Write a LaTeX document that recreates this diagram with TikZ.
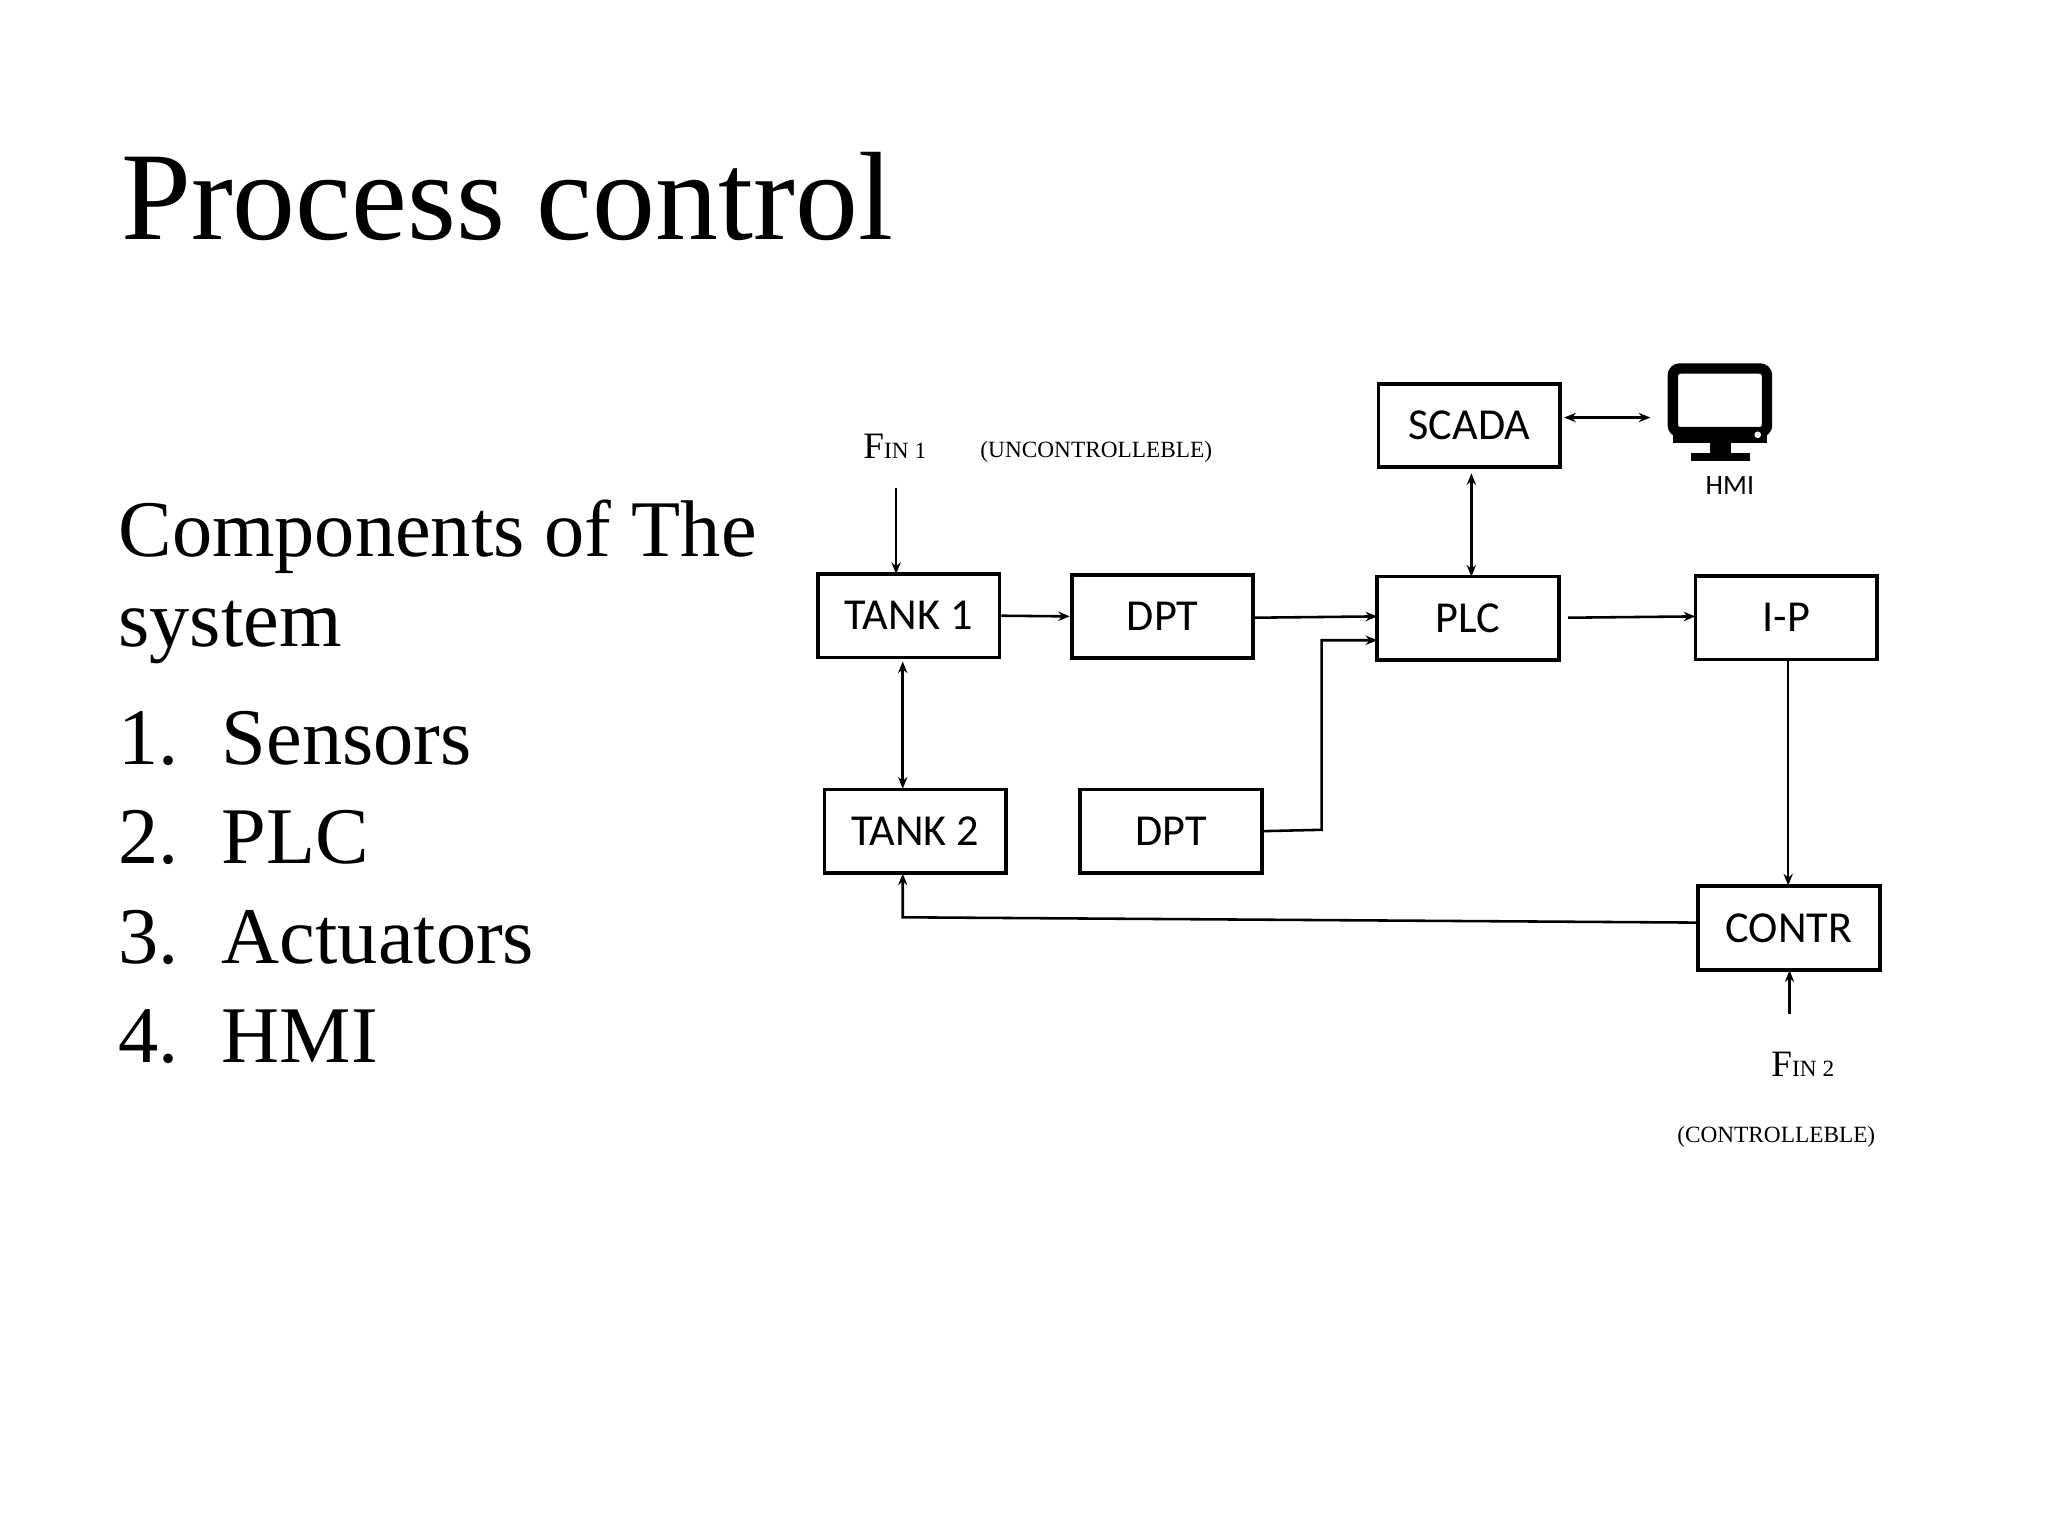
\documentclass[tikz,border=0pt]{standalone}
\usepackage{fontspec}
\setmainfont{Liberation Serif}
\newfontfamily\boxfont{Carlito}
\usetikzlibrary{arrows.meta}
\begin{document}
\begin{tikzpicture}[x=0.02cm,y=-0.02cm,
  blk/.style={draw,line width=1.6pt,minimum width=137*0.02cm,minimum height=63*0.02cm,inner sep=0pt,font=\boxfont\fontsize{19}{22}\selectfont},
  con/.style={line width=1.1pt,-{Stealth[length=5pt,width=4pt]}},
  bcon/.style={line width=1.1pt,{Stealth[length=5pt,width=4pt]}-{Stealth[length=5pt,width=4pt]}},
  sm/.style={font=\fontsize{10}{12}\selectfont,inner sep=0pt}]
\useasboundingbox (0,0) rectangle (1545,1159);
\node[anchor=west,inner sep=0pt,font=\fontsize{54}{60}\selectfont] (title) at (91,148) {Process control};
\node[anchor=west,inner sep=0pt,font=\fontsize{34.5}{40}\selectfont] (c1) at (89,405) {Components of The};
\node[anchor=west,inner sep=0pt,font=\fontsize{34.5}{40}\selectfont] (c2) at (89,477) {system};
\foreach \n/\t/\y in {1/Sensors/557,2/PLC/632,3/Actuators/707,4/HMI/782}{
  \node[anchor=west,inner sep=0pt,font=\fontsize{34.5}{40}\selectfont] (n\n) at (89,\y) {\n.};
  \node[anchor=west,inner sep=0pt,font=\fontsize{34.5}{40}\selectfont] (t\n) at (167,\y) {\t};
}
\node[blk] (scada) at (1108.5,321) {SCADA};
\node[blk] (t1) at (685.5,464.5) {TANK 1};
\node[blk] (d1) at (877,465) {DPT};
\node[blk] (plc) at (1107.5,466.5) {PLC};
\node[blk] (ip) at (1347.5,466) {I-P};
\node[blk] (t2) at (690.5,627) {TANK 2};
\node[blk] (d2) at (883.5,627) {DPT};
\node[blk] (contr) at (1349.5,700) {CONTR};
% monitor
\draw[line width=4.5pt,rounded corners=3pt] (1262,278) rectangle (1333,326);
\fill (1262,322) rectangle (1333,334);
\fill[white] (1326,328) circle (2.5);
\fill (1290,334) rectangle (1306,342);
\fill (1276,342) rectangle (1320,348);
\node[font=\boxfont\fontsize{12}{14}\selectfont,inner sep=0pt] (hmi) at (1305,366) {HMI};
\coordinate (mon) at (1245,315);
% labels
\node[inner sep=0pt] (fin1) at (675,337) {\fontsize{16}{18}\selectfont F\fontsize{10}{12}\selectfont IN 1};
\node[sm] (unc) at (827,341) {(UNCONTROLLEBLE)};
\node[inner sep=0pt] (fin2) at (1360,803) {\fontsize{16}{18}\selectfont F\fontsize{10}{12}\selectfont IN 2};
\node[sm] (ctl) at (1340,858) {(CONTROLLEBLE)};
\coordinate (f1s) at (676,368);
\coordinate (f2s) at (1350,765);
% connectors
\draw[con] (f1s) -- (676,433);
\draw[con] (f2s) -- (1350,732);
\draw[con] (t1.east) -- (d1.west);
\draw[con] (946,466) -- (1039,465);
\draw[con] (d2.east) -- (997,626) -- (997,483) -- (1039,483);
\draw[con] (1183,466) -- (1279,465);
\draw[con] (1349,498) -- (1349,668);
\draw[con] (1281,696) -- (681,692) -- (681,659);
\draw[bcon] (681,499) -- (681,595);
\draw[bcon] (1110,357) -- (1110,435);
\draw[bcon] (1180,315) -- (mon);
\end{tikzpicture}
\end{document}
